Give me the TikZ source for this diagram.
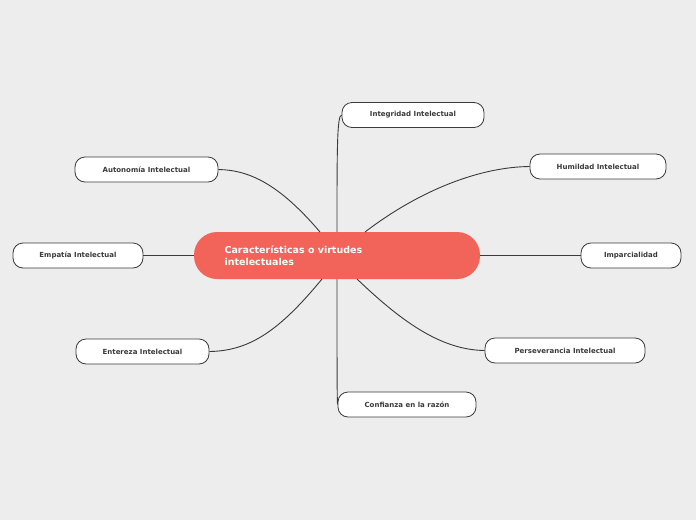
\documentclass[tikz,border=0pt]{standalone}
\usepackage{fontspec}
\setmainfont{DejaVu Sans}
\definecolor{bg}{HTML}{EDEDED}
\definecolor{mainc}{HTML}{F2635A}
\definecolor{ln}{HTML}{3A3A3A}
\begin{document}
\begin{tikzpicture}[x=1pt,y=-1pt,
  leaf/.style={draw=ln,line width=0.8pt,fill=white,rounded corners=10pt,minimum height=25pt,font=\bfseries\fontsize{7}{9}\selectfont,text=ln,inner xsep=0pt},
  conn/.style={draw=ln,line width=0.9pt}]
\fill[bg] (0,0) rectangle (696,520);
\node[fill=mainc,rounded corners=23pt,minimum width=286pt,minimum height=47pt,inner sep=0pt] (c) at (337,255.5) {};
\node[text=white,font=\bfseries\fontsize{9.5}{12}\selectfont,align=left,anchor=west] (ct) at (221,255.5) {Características o virtudes\\intelectuales};
\node[leaf,minimum width=142pt] (a) at (413,115) {Integridad Intelectual};
\node[leaf,minimum width=136pt] (b) at (598,166.5) {Humildad Intelectual};
\node[leaf,minimum width=100pt] (d) at (631,255.5) {Imparcialidad};
\node[leaf,minimum width=160pt] (e) at (565,350.5) {Perseverancia Intelectual};
\node[leaf,minimum width=138pt] (f) at (407,404.5) {Confianza en la razón};
\node[leaf,minimum width=143pt] (g) at (146.5,169.5) {Autonomía Intelectual};
\node[leaf,minimum width=130pt] (h) at (78,255.5) {Empatía Intelectual};
\node[leaf,minimum width=133pt] (i) at (142.5,351.5) {Entereza Intelectual};
\coordinate (ct1) at (337,232);
\coordinate (cb1) at (337,279);
\draw[conn] (ct1) .. controls (337,150) and (337,115) .. (a.west);
\draw[conn] (365,232) .. controls (420,190) and (480,167) .. (b.west);
\draw[conn] (c.east) -- (d.west);
\draw[conn] (357,279) .. controls (400,320) and (440,350) .. (e.west);
\draw[conn] (cb1) .. controls (337,350) and (337,404) .. (f.west);
\draw[conn] (320,232) .. controls (280,185) and (250,170) .. (g.east);
\draw[conn] (c.west) -- (h.east);
\draw[conn] (322,279) .. controls (280,330) and (250,351) .. (i.east);
\end{tikzpicture}
\end{document}
